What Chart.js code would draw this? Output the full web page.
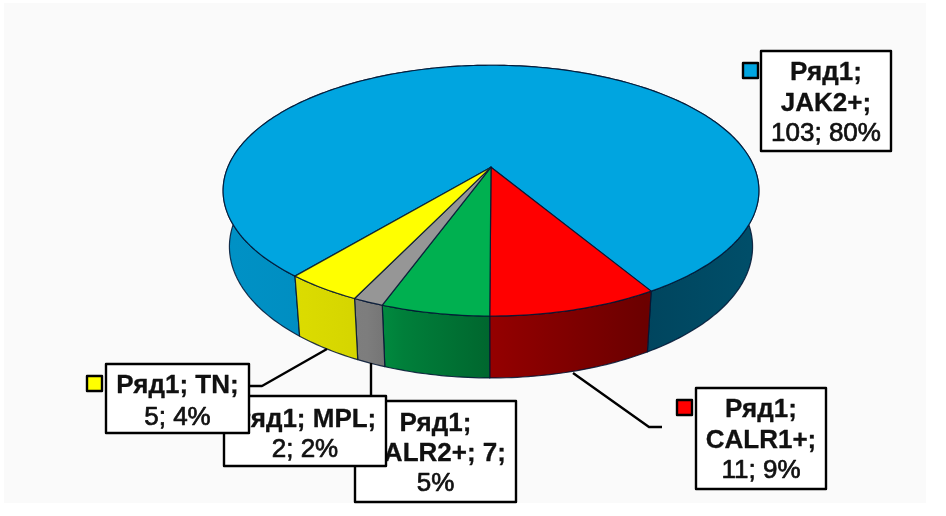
<!DOCTYPE html>
<html>
<head>
<meta charset="utf-8">
<script src="https://cdn.jsdelivr.net/npm/chart.js@4"></script>
<style>
  html, body { margin: 0; padding: 0; background: #fff; }
  canvas { display: block; filter: blur(0.5px); }
</style>
</head>
<body>
<canvas id="myChart" width="946" height="516"></canvas>
<script>
const series_name = "Ряд1";
const categories = ["JAK2+", "CALR1+", "CALR2+", "MPL", "TN"];
const values = [103, 11, 7, 2, 5];
const percents = [80, 9, 5, 2, 4];
const slice_colors = ["#00a5e0", "#ff0000", "#00b050", "#969696", "#ffff00"];
const start_angle = 219.6;

// how the flat pie is tipped over, all relative to the pie radius
const tilt = { k: 0.187, top_x: 1.02, top_y: 0.469, top_shift: -0.352,
               bottom_x: 0.996, bottom_y: 0.491, bottom_shift: -0.139 };
// darkening of the side wall from left to right
const wall_shade = [[0.0, 0.88], [0.14, 0.86], [0.26, 0.83], [0.33, 0.72], [0.5, 0.58], [0.8, 0.42], [1.0, 0.47]];

const text_of = (i) => ({
  name: `${categories[i]}`,
  head: `${series_name};`,
  nums: `${values[i]}; ${percents[i]}%`,
});

// drawing order matters, later boxes lie over the earlier ones
const label_boxes = [
  { i: 0, box: [761, 51, 130, 100], key: [743, 63, 15], base: 80, gap: 30.5,
    lines: (t) => [[t.head, true], [t.name + ";", true], [t.nums, false]], leader: [] },
  { i: 1, box: [696, 388, 130, 101], key: [677, 400, 15], base: 417, gap: 30.5,
    lines: (t) => [[t.head, true], [t.name + ";", true], [t.nums, false]],
    leader: [[573, 373], [649, 427], [662, 427]] },
  { i: 2, box: [355, 401, 161, 101], base: 431, gap: 30,
    lines: (t) => [[t.head, true], [`${t.name}; ${values[2]};`, true], [`${percents[2]}%`, false]], leader: [] },
  { i: 3, box: [224, 396, 162, 70], base: 427, gap: 30,
    lines: (t) => [[`${t.head} ${t.name};`, true], [t.nums, false]],
    leader: [[371, 363], [371, 396]] },
  { i: 4, box: [106, 364, 143, 69], key: [87, 376, 15], base: 393, gap: 32,
    lines: (t) => [[`${t.head} ${t.name};`, true], [t.nums, false]],
    leader: [[249, 386], [262, 386], [327, 349]] },
];

const project = (arc, a, face) => {
  const r = arc.outerRadius;
  const x = Math.cos(a);
  const y = Math.sin(a);
  const w = 1 - tilt.k * y;
  const sx = face == "top" ? tilt.top_x : tilt.bottom_x;
  const sy = face == "top" ? tilt.top_y : tilt.bottom_y;
  const shift = face == "top" ? tilt.top_shift : tilt.bottom_shift;
  return [arc.x + (r * sx * x) / w, arc.y + r * shift + (r * sy * y) / w];
};

const arc_points = (arc, face) => {
  const pts = [];
  const steps = Math.max(2, Math.ceil(((arc.endAngle - arc.startAngle) * 180) / Math.PI));
  for (let s = 0; s <= steps; s++) {
    pts.push(project(arc, arc.startAngle + ((arc.endAngle - arc.startAngle) * s) / steps, face));
  }
  return pts;
};

const shade = (hex, f) => {
  const n = parseInt(hex.slice(1), 16);
  return `rgb(${Math.round((n >> 16) * f)}, ${Math.round(((n >> 8) & 255) * f)}, ${Math.round((n & 255) * f)})`;
};

const pie_3d = {
  id: "pie_3d",
  beforeDraw(chart) {
    // the picture sits on a very light grey sheet with a white rim
    chart.ctx.fillStyle = "#fafafa";
    chart.ctx.fillRect(4, 3, 922, 500);
  },
  beforeDatasetDraw(chart) {
    const ctx = chart.ctx;
    const arcs = chart.getDatasetMeta(0).data;
    const left = arcs[0].x - arcs[0].outerRadius;
    const right = arcs[0].x + arcs[0].outerRadius;
    ctx.save();
    ctx.lineJoin = "round";
    ctx.lineWidth = 1.2;
    ctx.strokeStyle = "rgba(0, 20, 50, 0.85)";
    // side walls first, the top face hides the back part of them
    arcs.forEach((arc, i) => {
      const top = arc_points(arc, "top");
      const bottom = arc_points(arc, "bottom").reverse();
      const grad = ctx.createLinearGradient(left, 0, right, 0);
      wall_shade.forEach(([pos, f]) => grad.addColorStop(pos, shade(slice_colors[i], f)));
      ctx.fillStyle = grad;
      ctx.beginPath();
      top.concat(bottom).forEach(([x, y], n) => (n ? ctx.lineTo(x, y) : ctx.moveTo(x, y)));
      ctx.closePath();
      ctx.fill();
      ctx.stroke();
    });
    arcs.forEach((arc, i) => {
      const apex = [arc.x, arc.y + arc.outerRadius * tilt.top_shift];
      ctx.fillStyle = slice_colors[i];
      ctx.beginPath();
      ctx.moveTo(apex[0], apex[1]);
      arc_points(arc, "top").forEach(([x, y]) => ctx.lineTo(x, y));
      ctx.closePath();
      ctx.fill();
      ctx.stroke();
    });
    ctx.restore();
    return false;
  },
  afterDatasetsDraw(chart) {
    const ctx = chart.ctx;
    ctx.save();
    ctx.lineJoin = "round";
    label_boxes.forEach((b) => {
      ctx.strokeStyle = "#000";
      ctx.lineWidth = 2.4;
      if (b.leader.length) {
        ctx.beginPath();
        b.leader.forEach(([x, y], n) => (n ? ctx.lineTo(x, y) : ctx.moveTo(x, y)));
        ctx.stroke();
      }
      if (b.key) {
        ctx.fillStyle = slice_colors[b.i];
        ctx.fillRect(b.key[0], b.key[1], b.key[2], b.key[2]);
        ctx.strokeRect(b.key[0], b.key[1], b.key[2], b.key[2]);
      }
      ctx.fillStyle = "#fff";
      ctx.fillRect(b.box[0], b.box[1], b.box[2], b.box[3]);
      ctx.strokeRect(b.box[0], b.box[1], b.box[2], b.box[3]);
      ctx.fillStyle = "#111";
      ctx.strokeStyle = "#111";
      ctx.textAlign = "center";
      ctx.textBaseline = "alphabetic";
      b.lines(text_of(b.i)).forEach(([txt, bold], n) => {
        const tx = b.box[0] + b.box[2] / 2;
        const ty = b.base + n * b.gap;
        ctx.font = `${bold ? "bold " : ""}26px "Liberation Sans"`;
        ctx.lineWidth = bold ? 0.3 : 0.7;
        ctx.fillText(txt, tx, ty);
        ctx.strokeText(txt, tx, ty);
      });
    });
    ctx.restore();
  },
};

const ctx = document.getElementById("myChart").getContext("2d");
const myChart = new Chart(ctx, {
  type: "pie",
  data: {
    labels: categories,
    datasets: [
      {
        label: series_name,
        data: values,
        backgroundColor: slice_colors,
        borderWidth: 0,
      },
    ],
  },
  options: {
    responsive: false,
    animation: false,
    rotation: start_angle,
    layout: { padding: { left: 36 } },
    plugins: { legend: { display: false }, tooltip: { enabled: false } },
  },
  plugins: [pie_3d],
});
</script>
</body>
</html>
